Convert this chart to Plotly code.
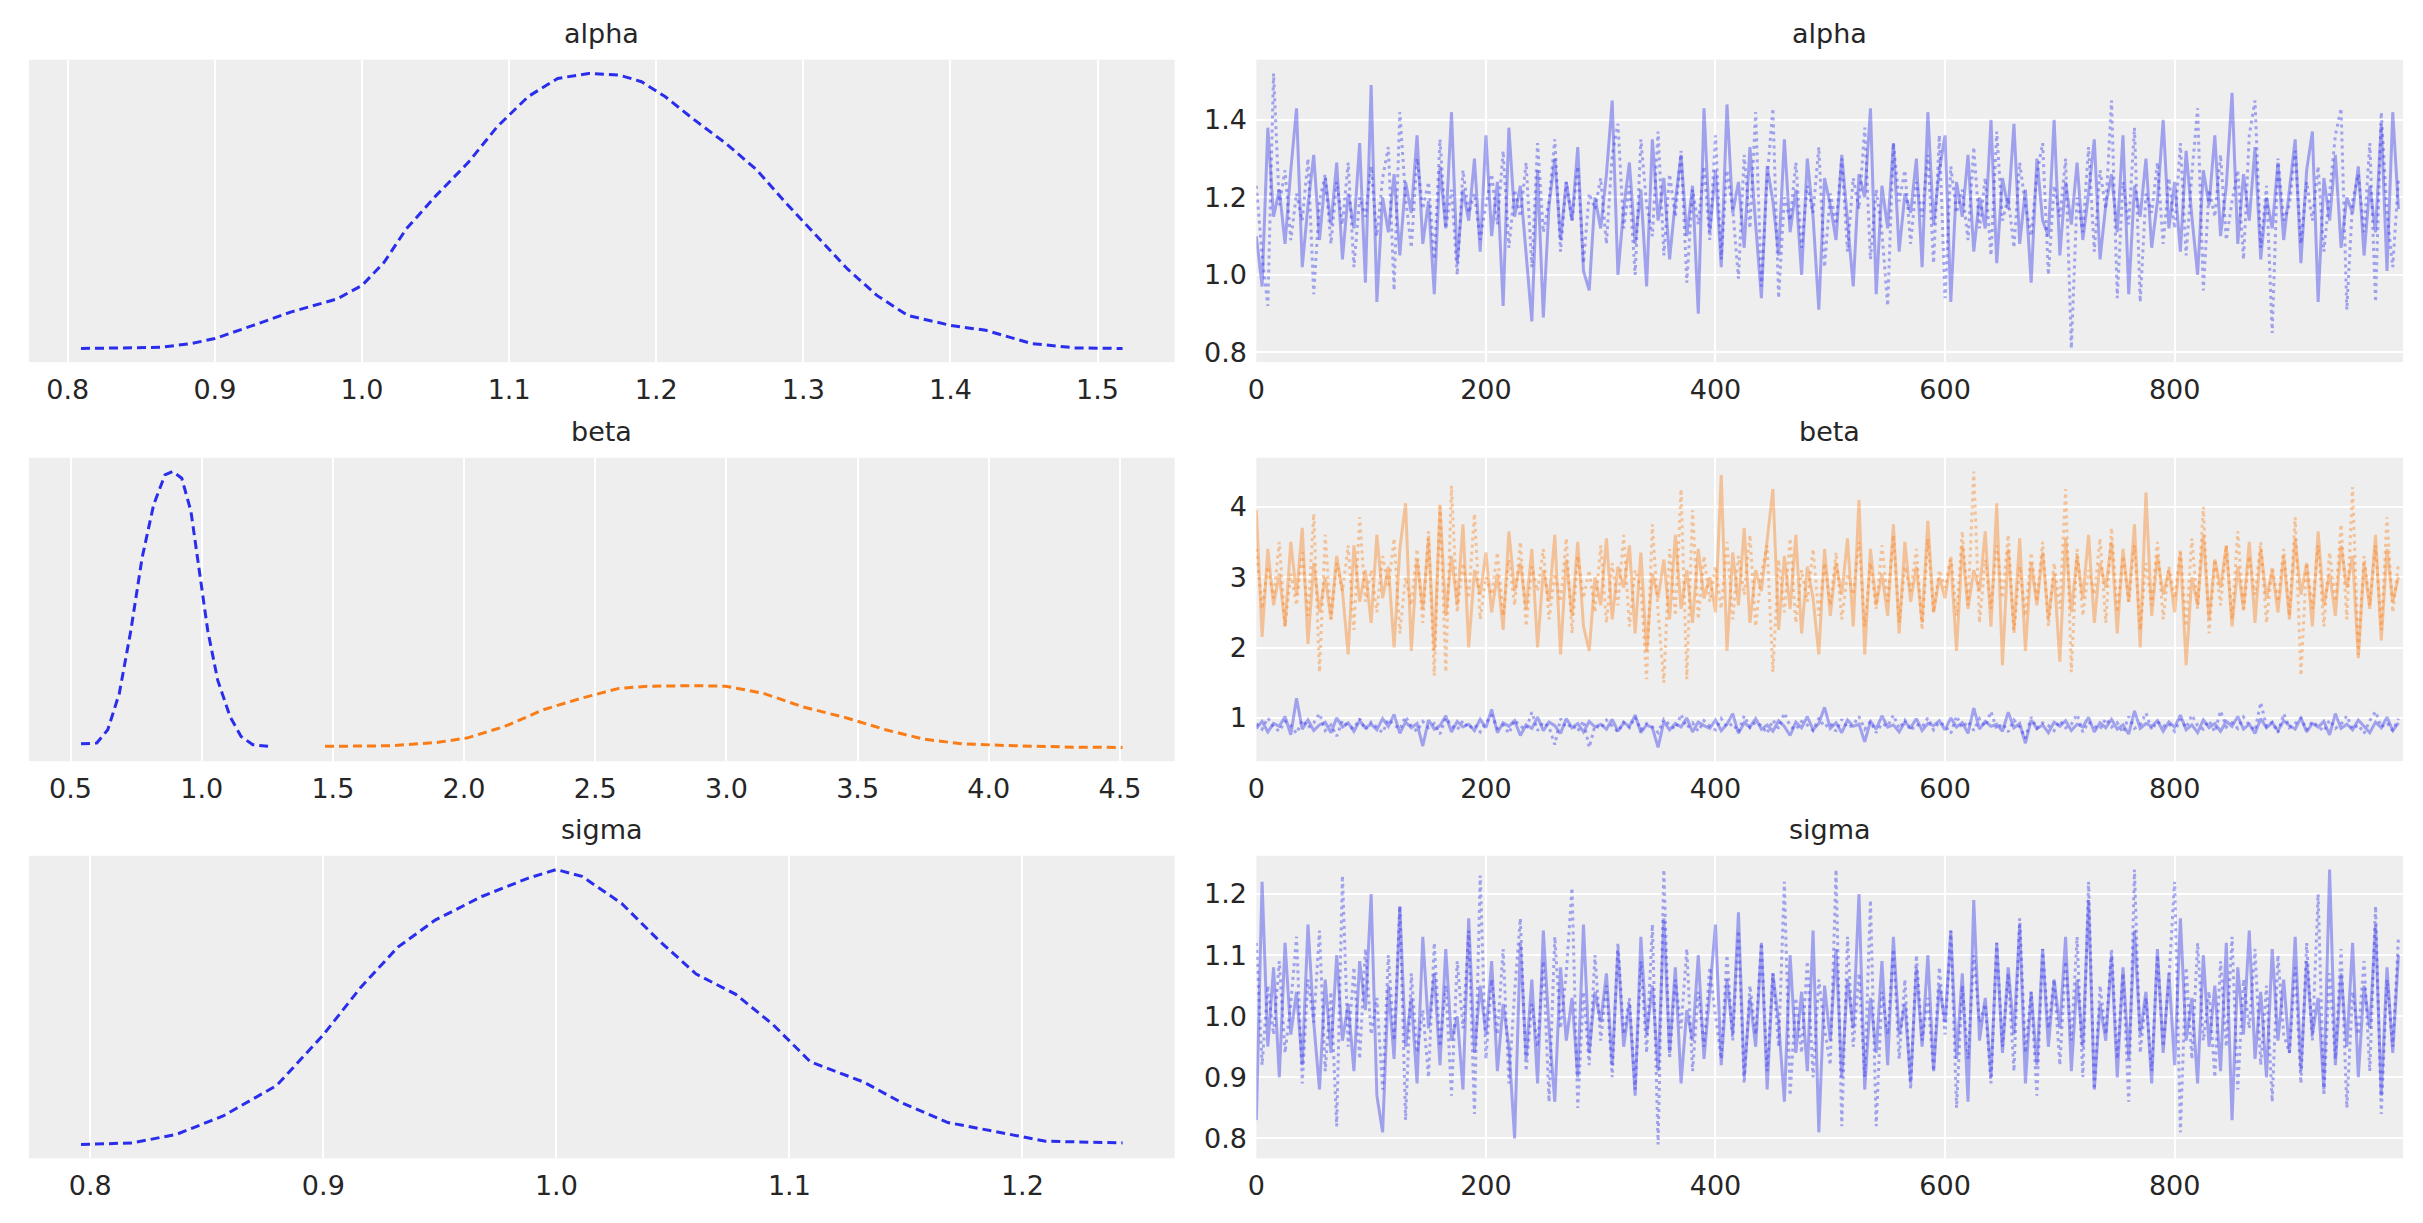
import plotly.graph_objects as go

# ---------------- data ----------------
N_DRAWS = 1000
STEP = 5
draw_idx = list(range(0, N_DRAWS, STEP))

var_names = ["alpha", "beta", "sigma"]

# KDE curves (posterior densities, relative height)
alpha_kde_x = [0.809, 0.863, 0.884, 0.9, 0.926, 0.952, 0.983, 1.0, 1.015, 1.03, 1.05, 1.072, 1.092, 1.113,
               1.133, 1.154, 1.175, 1.19, 1.206, 1.226, 1.247, 1.268, 1.288, 1.309, 1.33, 1.35, 1.371, 1.4,
               1.424, 1.455, 1.485, 1.517]
alpha_kde_y = [0.0, 0.004, 0.018, 0.036, 0.084, 0.133, 0.18, 0.229, 0.313, 0.434, 0.554, 0.675, 0.807, 0.916,
               0.982, 1.0, 0.994, 0.97, 0.916, 0.831, 0.747, 0.651, 0.53, 0.41, 0.289, 0.193, 0.12, 0.084,
               0.066, 0.018, 0.002, 0.0]

beta0_kde_x = [0.54, 0.60, 0.642, 0.686, 0.73, 0.773, 0.817, 0.86, 0.889, 0.924, 0.959, 0.988, 1.023, 1.061,
               1.108, 1.15, 1.195, 1.253]
beta0_kde_y = [0.013, 0.016, 0.064, 0.196, 0.424, 0.688, 0.88, 0.988, 1.0, 0.976, 0.856, 0.652, 0.424, 0.244,
               0.112, 0.04, 0.01, 0.004]
beta1_kde_x = [1.47, 1.72, 1.895, 2.01, 2.155, 2.3, 2.445, 2.59, 2.706, 2.88, 2.997, 3.142, 3.288, 3.462,
               3.607, 3.752, 3.898, 4.1, 4.33, 4.51]
beta1_kde_y = [0.004, 0.006, 0.018, 0.034, 0.076, 0.136, 0.178, 0.214, 0.222, 0.224, 0.222, 0.196, 0.148, 0.106,
               0.064, 0.03, 0.013, 0.006, 0.001, 0.0]

sigma_kde_x = [0.796, 0.818, 0.837, 0.857, 0.88, 0.9, 0.916, 0.932, 0.948, 0.968, 0.988, 1.0, 1.011, 1.028,
               1.044, 1.06, 1.077, 1.093, 1.109, 1.132, 1.148, 1.168, 1.191, 1.21, 1.243]
sigma_kde_y = [0.0, 0.006, 0.037, 0.104, 0.215, 0.399, 0.571, 0.718, 0.816, 0.902, 0.969, 1.0, 0.975, 0.877,
               0.742, 0.62, 0.546, 0.436, 0.301, 0.227, 0.153, 0.08, 0.043, 0.012, 0.006]

# MCMC traces (thinned, every 5th draw), chain 0 / chain 1
alpha_chain0 = [
    1.10, 0.97, 1.38, 1.15, 1.22, 1.08, 1.27, 1.43, 1.02, 1.18, 1.31, 1.09, 1.25, 1.13, 1.29, 1.04, 1.21, 1.12, 1.34, 0.98,
    1.49, 0.93, 1.20, 1.11, 1.26, 1.05, 1.24, 1.16, 1.36, 1.08, 1.19, 0.95, 1.28, 1.12, 1.42, 1.03, 1.22, 1.14, 1.30, 1.06,
    1.36, 1.10, 1.24, 0.92, 1.38, 1.15, 1.23, 1.05, 0.88, 1.27, 0.89, 1.18, 1.30, 1.09, 1.24, 1.14, 1.33, 1.01, 0.96, 1.20,
    1.12, 1.26, 1.45, 1.00, 1.17, 1.29, 1.08, 1.22, 0.97, 1.35, 1.14, 1.25, 1.04, 1.19, 1.31, 1.10, 1.23, 0.90, 1.43, 1.11,
    1.27, 1.02, 1.44, 1.16, 1.24, 1.07, 1.33, 1.13, 0.94, 1.28, 1.19, 1.05, 1.35, 1.11, 1.22, 1.00, 1.30, 1.15, 0.91, 1.25,
    1.18, 1.09, 1.31, 1.14, 0.97, 1.26, 1.20, 1.43, 0.95, 1.23, 1.12, 1.34, 1.06, 1.21, 1.16, 1.30, 1.02, 1.42, 1.13, 1.27,
    1.36, 0.93, 1.24, 1.15, 1.31, 1.06, 1.20, 1.12, 1.40, 1.03, 1.25, 1.17, 1.39, 1.08, 1.22, 0.98, 1.30, 1.14, 1.10, 1.40,
    1.05, 1.24, 1.13, 1.29, 1.09, 1.21, 1.35, 1.04, 1.18, 1.26, 1.11, 1.36, 0.95, 1.23, 1.15, 1.30, 1.07, 1.19, 1.40, 1.12,
    1.24, 1.06, 1.32, 1.15, 1.00, 1.27, 1.18, 1.36, 1.10, 1.23, 1.47, 1.08, 1.26, 1.14, 1.33, 1.04, 1.20, 1.12, 1.29, 1.09,
    1.22, 1.35, 1.03, 1.27, 1.37, 0.93, 1.25, 1.14, 1.31, 1.07, 1.20, 1.16, 1.28, 1.05, 1.23, 1.11, 1.39, 1.01, 1.42, 1.17]
alpha_chain1 = [
    1.23, 1.05, 0.92, 1.52, 1.18, 1.27, 1.09, 1.21, 1.14, 1.30, 0.95, 1.19, 1.26, 1.08, 1.24, 1.13, 1.29, 1.02, 1.20, 1.15,
    1.28, 1.10, 1.25, 1.33, 0.96, 1.42, 1.20, 1.07, 1.30, 1.17, 1.24, 1.04, 1.35, 1.12, 1.22, 1.00, 1.27, 1.16, 1.21, 1.09,
    1.18, 1.26, 1.13, 1.32, 1.07, 1.22, 1.15, 1.29, 1.02, 1.34, 1.11, 1.19, 1.35, 1.06, 1.24, 1.14, 1.28, 1.03, 1.21, 1.17,
    1.25, 1.08, 1.31, 1.39, 1.12, 1.23, 1.00, 1.35, 1.18, 1.10, 1.37, 1.05, 1.26, 1.15, 1.32, 0.98, 1.22, 1.13, 1.28, 1.09,
    1.36, 1.04, 1.27, 1.17, 0.99, 1.31, 1.12, 1.42, 0.97, 1.25, 1.43, 0.94, 1.20, 1.14, 1.29, 1.07, 1.23, 1.16, 1.33, 1.02,
    1.21, 1.13, 1.30, 1.06, 1.25, 1.17, 1.38, 1.04, 1.22, 1.11, 0.92, 1.34, 1.19, 1.27, 1.08, 1.24, 1.15, 1.31, 1.03, 1.36,
    0.94, 1.28, 1.16, 1.22, 1.09, 1.33, 1.12, 1.25, 1.05, 1.37, 1.14, 1.20, 1.07, 1.29, 1.18, 1.10, 1.26, 1.34, 1.00, 1.23,
    1.15, 1.30, 0.81, 1.20, 1.11, 1.33, 1.06, 1.27, 1.17, 1.45, 0.94, 1.24, 1.13, 1.38, 0.93, 1.21, 1.16, 1.29, 1.08, 1.25,
    1.12, 1.34, 1.05, 1.26, 1.43, 0.96, 1.22, 1.15, 1.31, 1.09, 1.19, 1.27, 1.04, 1.36, 1.45, 1.07, 1.23, 0.85, 1.30, 1.14,
    1.18, 1.32, 1.08, 1.24, 1.14, 1.28, 1.06, 1.21, 1.36, 1.43, 0.91, 1.19, 1.26, 1.11, 1.34, 0.93, 1.42, 1.16, 1.02, 1.25]

beta0_chain0 = [
    0.85, 0.95, 0.80, 0.92, 0.88, 1.02, 0.76, 1.28, 0.84, 0.97, 0.82, 0.90, 0.94, 0.79, 1.00, 0.87, 0.93, 0.81, 0.96, 0.86,
    0.91, 0.83, 0.99, 0.88, 1.05, 0.78, 0.94, 0.86, 0.92, 0.60, 0.97, 0.84, 0.89, 1.03, 0.80, 0.95, 0.87, 0.91, 0.82, 0.98,
    0.86, 1.12, 0.79, 0.93, 0.88, 0.96, 0.75, 0.90, 0.85, 1.01, 0.82, 0.94, 0.89, 0.78, 0.99, 0.86, 0.92, 0.80, 0.95, 0.87,
    0.91, 0.84, 0.98, 0.81, 0.93, 0.88, 1.04, 0.79, 0.90, 0.86, 0.58, 0.95, 0.83, 0.92, 0.87, 1.00, 0.80, 0.94, 0.89, 0.85,
    0.97, 0.82, 0.91, 1.06, 0.78, 0.93, 0.87, 0.99, 0.84, 0.90, 0.81, 0.96, 0.88, 0.75, 0.94, 0.86, 1.02, 0.83, 0.92, 1.15,
    0.85, 0.93, 0.79, 0.97, 0.88, 0.91, 0.66, 0.95, 0.84, 1.03, 0.87, 0.90, 0.80, 0.94, 0.86, 0.99, 0.82, 0.92, 0.89, 0.96,
    0.83, 1.00, 0.87, 0.93, 0.78, 1.14, 0.84, 0.95, 0.88, 0.91, 0.81, 1.08, 0.86, 0.92, 0.64, 0.97, 0.85, 0.90, 0.79, 0.94,
    0.88, 0.96, 0.82, 0.91, 0.87, 1.01, 0.80, 0.93, 0.86, 0.98, 0.84, 0.90, 0.77, 1.10, 0.85, 0.92, 0.88, 0.96, 0.81, 0.94,
    0.87, 1.04, 0.83, 0.90, 0.79, 0.97, 0.86, 0.92, 0.81, 0.95, 0.88, 1.02, 0.84, 0.91, 0.78, 0.99, 0.86, 0.93, 0.82, 0.96,
    0.89, 0.84, 1.00, 0.80, 0.92, 0.87, 0.95, 0.76, 1.06, 0.85, 0.91, 0.83, 0.97, 0.88, 0.79, 0.94, 0.86, 1.01, 0.82, 0.93]
beta0_chain1 = [
    0.92, 0.84, 1.00, 0.87, 0.81, 0.95, 0.89, 0.78, 0.97, 0.86, 0.93, 1.06, 0.82, 0.90, 0.74, 0.96, 0.88, 0.85, 0.99, 0.83,
    0.94, 0.87, 0.79, 0.98, 0.90, 0.84, 1.02, 0.88, 0.81, 0.95, 0.86, 0.92, 0.77, 1.00, 0.89, 0.83, 0.96, 0.85, 0.91, 0.80,
    0.93, 1.04, 0.85, 0.90, 0.78, 0.97, 0.88, 0.84, 1.08, 0.82, 0.94, 0.87, 0.62, 0.99, 0.86, 0.91, 0.81, 0.96, 0.58, 0.89,
    0.85, 0.97, 0.88, 0.80, 0.94, 0.86, 1.01, 0.83, 0.92, 0.87, 0.79, 0.98, 0.90, 0.84, 1.05, 0.86, 0.93, 0.81, 0.96, 0.88,
    0.83, 0.99, 0.87, 0.92, 0.80, 1.03, 0.86, 0.94, 0.89, 0.78, 0.97, 0.85, 1.07, 0.88, 0.83, 0.95, 0.90, 0.82, 1.00, 0.87,
    0.93, 0.81, 0.98, 0.86, 0.90, 1.02, 0.84, 0.95, 0.79, 0.92, 0.88, 1.04, 0.85, 0.97, 0.82, 0.91, 0.87, 1.00, 0.83, 0.94,
    0.89, 0.78, 1.03, 0.86, 0.95, 0.82, 0.99, 0.88, 1.09, 0.84, 0.92, 0.80, 0.97, 0.87, 0.71, 1.01, 0.85, 0.93, 0.89, 0.82,
    0.96, 0.86, 0.91, 1.05, 0.80, 0.94, 0.88, 0.84, 0.99, 0.87, 0.93, 0.79, 1.02, 0.85, 0.90, 1.07, 0.83, 0.95, 0.88, 0.92,
    0.81, 0.98, 0.86, 1.04, 0.89, 0.84, 0.96, 0.80, 1.10, 0.87, 0.93, 0.85, 1.01, 0.90, 0.82, 1.22, 0.88, 0.94, 0.79, 1.06,
    0.86, 0.92, 1.00, 0.83, 0.95, 0.88, 0.81, 0.97, 0.85, 0.91, 1.03, 0.84, 0.90, 0.78, 0.96, 1.09, 0.87, 0.93, 0.82, 0.99]

beta1_chain0 = [
    3.95, 2.15, 3.40, 2.60, 3.05, 2.30, 3.50, 2.75, 3.70, 2.05, 3.20, 2.50, 3.00, 2.40, 3.30, 2.80, 1.90, 3.45, 2.65, 3.10,
    2.35, 3.60, 2.70, 3.15, 2.00, 3.40, 4.05, 1.95, 3.25, 2.55, 3.55, 1.95, 4.00, 2.45, 3.30, 2.60, 3.75, 2.00, 3.10, 2.75,
    3.35, 2.50, 3.05, 2.25, 3.65, 2.80, 3.20, 2.55, 3.40, 2.00, 3.10, 2.65, 3.60, 1.90, 3.25, 2.45, 3.50, 2.30, 1.95, 3.00,
    2.60, 3.55, 2.40, 3.15, 2.85, 3.45, 2.20, 3.35, 1.95, 3.05, 2.70, 3.25, 2.40, 3.60, 2.55, 3.10, 2.35, 3.40, 2.70, 3.00,
    2.50, 4.45, 1.95, 3.35, 2.60, 3.70, 2.35, 3.10, 2.80, 3.50, 4.25, 2.25, 3.30, 2.55, 3.60, 2.20, 3.15, 2.70, 1.90, 3.40,
    2.45, 3.20, 2.75, 3.55, 2.30, 4.10, 1.90, 3.40, 2.60, 3.05, 2.45, 3.75, 2.20, 3.50, 2.65, 3.15, 2.35, 3.80, 2.50, 3.00,
    2.70, 3.25, 1.95, 3.45, 2.55, 3.10, 2.80, 3.65, 2.30, 4.05, 1.75, 3.40, 2.25, 3.55, 1.95, 3.20, 2.60, 3.35, 2.40, 3.05,
    1.80, 3.55, 2.50, 3.30, 2.70, 3.60, 2.35, 3.20, 2.85, 3.50, 2.20, 3.40, 2.65, 3.75, 2.00, 4.20, 2.45, 3.30, 2.75, 3.10,
    2.50, 3.35, 1.75, 3.00, 2.60, 3.60, 2.40, 3.25, 2.85, 3.45, 2.30, 3.15, 2.55, 3.50, 2.35, 3.40, 2.70, 3.10, 2.50, 3.30,
    2.40, 3.55, 2.75, 3.20, 2.30, 3.65, 2.60, 3.05, 2.45, 3.45, 2.85, 3.30, 1.85, 3.20, 2.55, 3.60, 2.10, 3.40, 2.65, 3.00]
beta1_chain1 = [
    3.40, 2.55, 3.15, 2.70, 3.50, 2.30, 3.05, 2.60, 3.35, 2.45, 3.90, 1.65, 3.60, 2.40, 3.20, 2.80, 3.45, 2.25, 3.85, 2.65,
    3.10, 2.50, 3.30, 2.85, 3.55, 2.20, 3.00, 2.60, 3.40, 2.35, 3.65, 1.60, 4.05, 1.65, 4.30, 2.50, 3.20, 2.70, 3.90, 2.40,
    3.00, 2.75, 3.35, 2.45, 3.25, 2.60, 3.50, 2.30, 3.15, 2.80, 3.40, 2.40, 3.05, 2.65, 3.55, 2.20, 3.30, 2.70, 3.10, 2.50,
    3.45, 2.35, 3.20, 2.60, 3.60, 2.30, 3.10, 2.85, 1.55, 3.75, 2.50, 1.50, 3.40, 2.45, 4.25, 1.55, 3.95, 2.40, 3.30, 2.65,
    3.15, 2.55, 3.50, 2.40, 3.30, 2.75, 3.60, 2.30, 3.05, 3.45, 1.65, 3.25, 2.50, 3.55, 2.35, 3.10, 2.65, 3.40, 2.45, 3.20,
    2.60, 3.35, 2.40, 3.05, 2.75, 3.50, 2.30, 3.20, 2.55, 3.45, 2.65, 3.60, 2.35, 3.15, 2.80, 3.40, 2.25, 3.55, 2.50, 3.10,
    2.85, 3.30, 2.45, 3.65, 2.60, 4.50, 2.35, 3.25, 2.55, 3.45, 2.70, 3.60, 2.20, 3.15, 2.45, 3.35, 2.65, 3.50, 2.30, 3.20,
    2.55, 4.25, 1.65, 3.40, 2.45, 3.10, 2.75, 3.55, 2.35, 3.70, 2.50, 3.30, 2.65, 3.45, 2.25, 3.20, 2.60, 3.50, 2.40, 3.15,
    2.70, 3.40, 2.30, 3.55, 2.55, 4.00, 2.20, 3.25, 2.60, 3.45, 2.40, 3.65, 2.50, 3.30, 2.75, 3.50, 2.35, 3.15, 2.65, 3.40,
    2.45, 3.85, 1.60, 3.20, 2.55, 3.45, 2.30, 3.35, 2.65, 3.75, 2.40, 4.28, 1.90, 3.30, 2.60, 3.45, 2.25, 3.85, 2.50, 3.20]

sigma_chain0 = [
    0.83, 1.22, 0.95, 1.08, 0.90, 1.12, 0.97, 1.04, 0.92, 1.15, 0.99, 0.88, 1.06, 0.94, 1.10, 0.96, 1.02, 0.91, 1.09, 1.01,
    1.20, 0.87, 0.81, 1.05, 0.93, 1.18, 0.95, 1.03, 0.89, 1.13, 0.98, 1.07, 0.92, 1.11, 0.96, 1.00, 0.88, 1.16, 0.94, 1.05,
    0.97, 1.09, 0.91, 1.02, 0.95, 0.80, 1.12, 0.93, 1.06, 0.89, 1.14, 0.98, 0.86, 1.08, 0.96, 1.03, 0.90, 1.15, 0.94, 1.04,
    0.99, 1.07, 0.92, 1.11, 0.95, 1.02, 0.87, 1.13, 0.97, 1.05, 0.91, 1.16, 0.94, 1.08, 0.89, 1.01, 0.96, 1.10, 0.93, 1.04,
    1.15, 0.92, 1.06, 0.97, 1.17, 0.90, 1.03, 0.95, 1.12, 0.88, 1.07, 0.99, 0.86, 1.10, 0.94, 1.04, 0.91, 1.14, 0.81, 1.05,
    0.96, 1.11, 0.90, 1.06, 0.98, 1.20, 0.88, 1.03, 0.94, 1.09, 0.92, 1.13, 0.97, 1.02, 0.89, 1.08, 0.95, 1.10, 0.91, 1.05,
    0.99, 1.14, 0.93, 1.07, 0.86, 1.19, 0.96, 1.03, 0.90, 1.12, 0.94, 1.08, 0.97, 1.15, 0.89, 1.04, 0.92, 1.11, 0.95, 1.06,
    0.98, 1.13, 0.91, 1.06, 0.95, 1.19, 0.88, 1.02, 0.96, 1.10, 0.90, 1.08, 0.93, 1.14, 0.97, 1.04, 0.89, 1.11, 0.94, 1.07,
    0.92, 1.16, 0.96, 1.03, 0.89, 1.10, 0.95, 1.05, 0.91, 1.12, 0.83, 1.08, 0.97, 1.14, 0.93, 1.04, 0.90, 1.11, 0.96, 1.06,
    0.94, 1.13, 0.91, 1.09, 0.97, 1.03, 0.88, 1.24, 0.92, 1.07, 0.95, 1.12, 0.90, 1.05, 0.98, 1.15, 0.87, 1.08, 0.94, 1.10]
sigma_chain1 = [
    1.12, 0.92, 1.05, 0.97, 1.09, 0.94, 1.02, 1.13, 0.89, 1.06, 0.99, 1.14, 0.91, 1.04, 0.82, 1.23, 0.95, 1.08, 0.93, 1.11,
    0.97, 1.03, 0.88, 1.10, 0.96, 1.18, 0.83, 1.07, 0.94, 1.01, 0.90, 1.12, 0.95, 1.05, 0.87, 1.09, 0.98, 1.14, 0.84, 1.23,
    0.93, 1.06, 0.97, 1.11, 0.89, 1.04, 1.16, 0.91, 1.02, 0.95, 1.09, 0.86, 1.13, 0.98, 1.07, 1.21, 0.85, 1.04, 0.92, 1.10,
    0.96, 1.05, 0.90, 1.12, 0.97, 1.03, 0.88, 1.09, 0.94, 1.15, 0.79, 1.24, 0.93, 1.06, 0.98, 1.11, 0.91, 1.04, 0.95, 1.08,
    1.00, 0.93, 1.10, 0.96, 1.14, 0.89, 1.05, 0.97, 1.12, 0.91, 1.07, 0.95, 1.22, 0.87, 1.03, 0.94, 1.09, 0.90, 1.06, 0.98,
    0.92, 1.24, 0.82, 1.13, 0.95, 1.07, 0.90, 1.19, 0.82, 1.04, 0.97, 1.11, 0.93, 1.06, 0.88, 1.10, 0.96, 1.03, 0.91, 1.08,
    0.97, 1.14, 0.85, 1.05, 0.93, 1.10, 0.99, 1.02, 0.89, 1.12, 0.95, 1.07, 0.91, 1.16, 0.94, 1.04, 0.87, 1.11, 0.98, 1.06,
    0.92, 1.09, 0.96, 1.13, 0.90, 1.22, 0.88, 1.05, 0.97, 1.11, 0.93, 1.07, 0.86, 1.24, 0.94, 1.03, 0.91, 1.10, 0.95, 1.06,
    1.22, 0.81, 1.08, 0.93, 1.12, 0.96, 1.04, 0.90, 1.09, 0.95, 1.13, 0.88, 1.06, 0.98, 1.11, 0.92, 1.05, 0.86, 1.10, 0.97,
    0.94, 1.08, 0.89, 1.12, 0.96, 1.20, 0.87, 1.07, 0.93, 1.11, 0.85, 1.04, 0.97, 1.09, 0.91, 1.18, 0.84, 1.06, 0.95, 1.13]

left_ticks = {
    "alpha": [0.8, 0.9, 1.0, 1.1, 1.2, 1.3, 1.4, 1.5],
    "beta": [0.5, 1.0, 1.5, 2.0, 2.5, 3.0, 3.5, 4.0, 4.5],
    "sigma": [0.8, 0.9, 1.0, 1.1, 1.2],
}
right_yticks = {
    "alpha": [0.8, 1.0, 1.2, 1.4],
    "beta": [1, 2, 3, 4],
    "sigma": [0.8, 0.9, 1.0, 1.1, 1.2],
}
draw_ticks = [0, 200, 400, 600, 800]

# ---------------- style ----------------
W, H = 2423, 1223
BLUE = "#2a2eec"
ORANGE = "#fa7c17"
BLUE_T = "rgba(42,46,236,0.4)"
ORANGE_T = "rgba(250,124,23,0.4)"
BG = "#eeeeee"
TXT = "#262626"
FONT = "DejaVu Sans"
FS = 27

left_dom = [20 / W, 1170 / W]
right_dom = [1252 / W, 2403 / W]
rows_px = [(60, 364), (460, 765), (860, 1164)]


def ydom(top, bot):
    return [1 - bot / H, 1 - top / H]


def padded(vals, frac=0.05):
    lo, hi = min(vals), max(vals)
    s = hi - lo
    return [lo - frac * s, hi + frac * s]


fig = go.Figure()

kde_sets = {
    "alpha": [(alpha_kde_x, alpha_kde_y, BLUE)],
    "beta": [(beta0_kde_x, beta0_kde_y, BLUE), (beta1_kde_x, beta1_kde_y, ORANGE)],
    "sigma": [(sigma_kde_x, sigma_kde_y, BLUE)],
}
trace_sets = {
    "alpha": [(alpha_chain0, alpha_chain1, BLUE_T)],
    "beta": [(beta0_chain0, beta0_chain1, BLUE_T), (beta1_chain0, beta1_chain1, ORANGE_T)],
    "sigma": [(sigma_chain0, sigma_chain1, BLUE_T)],
}

layout = dict(
    width=W, height=H,
    margin=dict(l=0, r=0, t=0, b=0),
    paper_bgcolor="white",
    plot_bgcolor=BG,
    showlegend=False,
    hovermode=False,
    font=dict(family=FONT, size=FS, color=TXT),
)
annotations = []

for r, name in enumerate(var_names):
    lx, ly = f"x{2*r+1}", f"y{2*r+1}"
    rx, ry = f"x{2*r+2}", f"y{2*r+2}"
    top, bot = rows_px[r]
    dom = ydom(top, bot)

    all_kx, all_ky = [], []
    for kx, ky, col in kde_sets[name]:
        fig.add_trace(go.Scatter(x=kx, y=ky, mode="lines", xaxis=lx, yaxis=ly,
                                 line=dict(color=col, width=3, dash="9px,5px")))
        all_kx += kx
        all_ky += ky

    all_ty = []
    for c0, c1, col in trace_sets[name]:
        fig.add_trace(go.Scatter(x=draw_idx, y=c0, mode="lines", xaxis=rx, yaxis=ry,
                                 line=dict(color=col, width=3)))
        fig.add_trace(go.Scatter(x=draw_idx, y=c1, mode="lines", xaxis=rx, yaxis=ry,
                                 line=dict(color=col, width=3, dash="3px,4px")))
        all_ty += c0 + c1

    axis_common = dict(showline=False, zeroline=False, gridcolor="white", gridwidth=1.6,
                       ticks="outside", ticklen=3, tickcolor="rgba(0,0,0,0)",
                       tickfont=dict(family=FONT, size=FS, color=TXT))
    layout[f"xaxis{2*r+1}"] = dict(domain=left_dom, anchor=ly, range=padded(all_kx),
                                   tickvals=left_ticks[name], tickformat=".1f",
                                   showgrid=True, **axis_common)
    layout[f"yaxis{2*r+1}"] = dict(domain=dom, anchor=lx, range=padded(all_ky),
                                   showgrid=False, showticklabels=False, zeroline=False,
                                   showline=False, ticks="")
    layout[f"xaxis{2*r+2}"] = dict(domain=right_dom, anchor=ry, range=[0, N_DRAWS - 1],
                                   tickvals=draw_ticks, showgrid=True, **axis_common)
    yfmt = "d" if name == "beta" else ".1f"
    layout[f"yaxis{2*r+2}"] = dict(domain=dom, anchor=rx, range=padded(all_ty),
                                   tickvals=right_yticks[name], tickformat=yfmt,
                                   showgrid=True, **axis_common)

    for d in (left_dom, right_dom):
        annotations.append(dict(text=name, x=(d[0] + d[1]) / 2, y=dom[1], xref="paper", yref="paper",
                                xanchor="center", yanchor="bottom", yshift=9, showarrow=False,
                                font=dict(family=FONT, size=FS, color=TXT)))

layout["annotations"] = annotations
fig.update_layout(**layout)
fig.write_html("out.html")
